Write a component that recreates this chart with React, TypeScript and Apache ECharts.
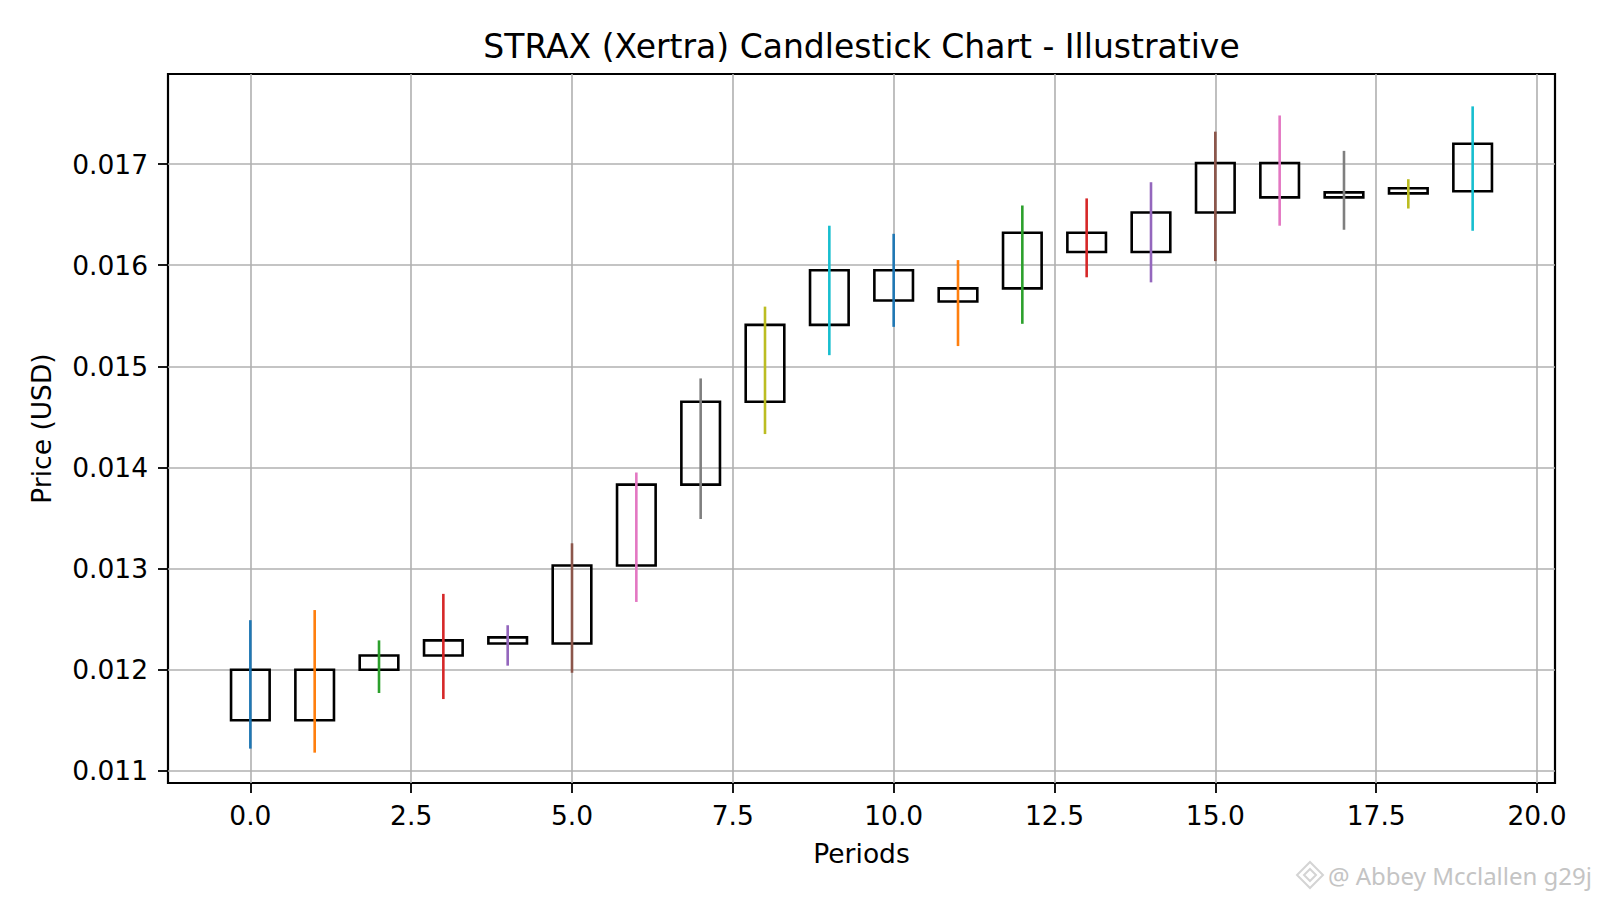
import React, { useEffect, useRef } from "react";
import * as echarts from "echarts";

// candle values (USD)
const periods = [0, 1, 2, 3, 4, 5, 6, 7, 8, 9, 10, 11, 12, 13, 14, 15, 16, 17, 18, 19];
const openPrices = [
  0.0120, 0.0115, 0.0120, 0.01214, 0.01232, 0.01226, 0.01303, 0.01383, 0.01465, 0.01541,
  0.01595, 0.01564, 0.01577, 0.01632, 0.01613, 0.01652, 0.01701, 0.01667, 0.01671, 0.01673,
];
const closePrices = [
  0.0115, 0.0120, 0.01214, 0.01229, 0.01226, 0.01303, 0.01383, 0.01465, 0.01541, 0.01595,
  0.01565, 0.01577, 0.01632, 0.01613, 0.01652, 0.01701, 0.01667, 0.01672, 0.01676, 0.0172,
];
const lowPrices = [
  0.01122, 0.01118, 0.01177, 0.01171, 0.01204, 0.01197, 0.01267, 0.01349, 0.01433, 0.01511,
  0.01539, 0.0152, 0.01542, 0.01588, 0.01583, 0.01604, 0.01639, 0.01635, 0.01656, 0.01634,
];
const highPrices = [
  0.01249, 0.01259, 0.01229, 0.01275, 0.01244, 0.01325, 0.01395, 0.01488, 0.01559, 0.01639,
  0.01631, 0.01605, 0.01659, 0.01666, 0.01682, 0.01732, 0.01748, 0.01713, 0.01685, 0.01757,
];

const xTicks = [0, 2.5, 5, 7.5, 10, 12.5, 15, 17.5, 20];
const yTicks = [0.011, 0.012, 0.013, 0.014, 0.015, 0.016, 0.017];

// matplotlib tab10 cycle for the wicks
const wickColors = [
  "#1f77b4", "#ff7f0e", "#2ca02c", "#d62728", "#9467bd",
  "#8c564b", "#e377c2", "#7f7f7f", "#bcbd22", "#17becf",
];

const BODY_WIDTH = 0.6;
const FONT = "DejaVu Sans";

const App: React.FC = () => {
  const chartRef = useRef<HTMLDivElement>(null);

  useEffect(() => {
    if (!chartRef.current) return;
    const chart = echarts.init(chartRef.current, null, { renderer: "svg" });

    const rows = periods.map((p, i) => [p, openPrices[i], closePrices[i], lowPrices[i], highPrices[i]]);

    const gridLeft = 168;
    const gridRight = 45;
    const gridTop = 74;
    const gridBottom = 117;
    const plotCenterX = gridLeft + (1600 - gridLeft - gridRight) / 2;
    const plotCenterY = gridTop + (900 - gridTop - gridBottom) / 2;

    const option = {
      animation: false,
      backgroundColor: "#fff",
      grid: {
        left: gridLeft,
        right: gridRight,
        top: gridTop,
        bottom: gridBottom,
        show: true,
        borderColor: "#000",
        borderWidth: 2.2,
        backgroundColor: "transparent",
      },
      xAxis: {
        type: "value",
        min: -1.28,
        max: 20.28,
        axisLine: { show: false, onZero: false },
        axisTick: {
          show: true,
          customValues: xTicks,
          length: 10,
          lineStyle: { color: "#000", width: 1.8 },
        },
        axisLabel: {
          customValues: xTicks,
          margin: 19,
          color: "#000",
          fontSize: 26.5,
          fontFamily: FONT,
          formatter: (v: number) => v.toFixed(1),
        },
        splitLine: { show: true, lineStyle: { color: "#b0b0b0", width: 1.6 } },
      },
      yAxis: {
        type: "value",
        min: 0.01088,
        max: 0.01789,
        axisLine: { show: false, onZero: false },
        axisTick: {
          show: true,
          customValues: yTicks,
          length: 10,
          lineStyle: { color: "#000", width: 1.8 },
        },
        axisLabel: {
          customValues: yTicks,
          margin: 20,
          color: "#000",
          fontSize: 26.5,
          fontFamily: FONT,
          formatter: (v: number) => v.toFixed(3),
        },
        splitLine: { show: true, lineStyle: { color: "#b0b0b0", width: 1.6 } },
      },
      graphic: [
        {
          type: "text",
          x: plotCenterX,
          y: 46,
          style: {
            text: "STRAX (Xertra) Candlestick Chart - Illustrative",
            fill: "#000",
            font: `33px "${FONT}"`,
            textAlign: "center",
            textVerticalAlign: "middle",
          },
        },
        {
          type: "text",
          x: plotCenterX,
          y: 853,
          style: {
            text: "Periods",
            fill: "#000",
            font: `26.5px "${FONT}"`,
            textAlign: "center",
            textVerticalAlign: "middle",
          },
        },
        {
          type: "text",
          x: 41,
          y: plotCenterY,
          rotation: Math.PI / 2,
          style: {
            text: "Price (USD)",
            fill: "#000",
            font: `26.5px "${FONT}"`,
            textAlign: "center",
            textVerticalAlign: "middle",
          },
        },
        // watermark logo
        {
          type: "polygon",
          shape: { points: [[1310, 862], [1323, 875], [1310, 888], [1297, 875]] },
          style: { fill: "none", stroke: "#d4d4d4", lineWidth: 2 },
        },
        {
          type: "polygon",
          shape: { points: [[1310, 869], [1316, 875], [1310, 881], [1304, 875]] },
          style: { fill: "none", stroke: "#d4d4d4", lineWidth: 2 },
        },
        {
          type: "text",
          x: 1592,
          y: 875,
          style: {
            text: "@ Abbey Mcclallen g29j",
            fill: "#c4c4c4",
            font: `24px "Noto Sans"`,
            textAlign: "right",
            textVerticalAlign: "middle",
          },
        },
      ],
      series: [
        {
          type: "custom",
          data: rows,
          encode: { x: 0, y: [1, 2, 3, 4] },
          renderItem: (params: any, api: any) => {
            const x = api.value(0);
            const pOpen = api.coord([x, api.value(1)]);
            const pClose = api.coord([x, api.value(2)]);
            const pLow = api.coord([x, api.value(3)]);
            const pHigh = api.coord([x, api.value(4)]);
            const w = api.size([BODY_WIDTH, 0])[0];
            return {
              type: "group",
              children: [
                {
                  type: "rect",
                  shape: {
                    x: pOpen[0] - w / 2,
                    y: Math.min(pOpen[1], pClose[1]),
                    width: w,
                    height: Math.abs(pOpen[1] - pClose[1]),
                  },
                  style: { fill: "none", stroke: "#000", lineWidth: 2.6 },
                },
                {
                  type: "line",
                  shape: { x1: pLow[0], y1: pLow[1], x2: pHigh[0], y2: pHigh[1] },
                  style: { stroke: wickColors[params.dataIndex % wickColors.length], lineWidth: 2.6 },
                },
              ],
            };
          },
        },
      ],
    };

    chart.setOption(option);

    return () => {
      chart.dispose();
    };
  }, []);

  return (
    <div
      ref={chartRef}
      style={{ position: "fixed", left: 0, top: 0, width: 1600, height: 900 }}
    />
  );
};

export default App;
